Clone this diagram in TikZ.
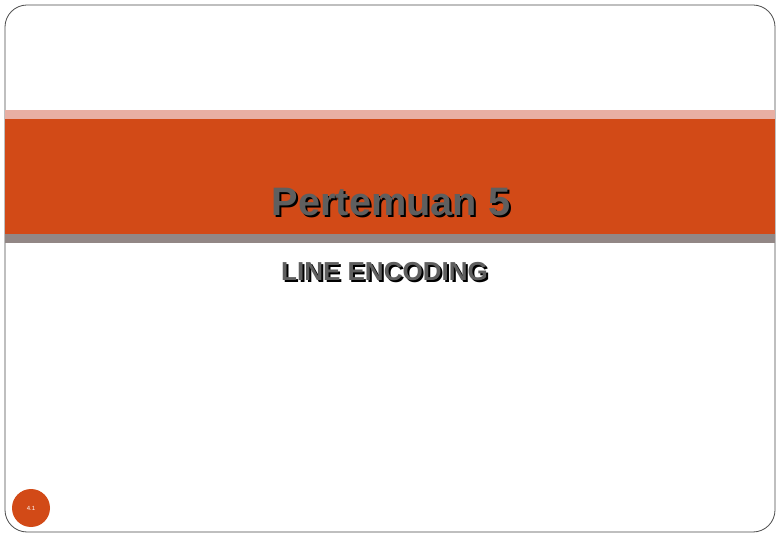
\documentclass[tikz,border=0pt]{standalone}
\usepackage{fontspec}
\setmainfont{Liberation Sans}
\definecolor{orng}{HTML}{D24A17}
\definecolor{pinkb}{HTML}{E8AFA3}
\definecolor{grayb}{HTML}{928785}
\definecolor{txtg}{HTML}{5F5F5F}
\tikzset{x=1pt,y=-1pt,
 shadowtext/.style={text=black},
 maintext/.style={text=txtg}}
\begin{document}
\begin{tikzpicture}
\useasboundingbox (0,0) rectangle (780,540);
\fill[white] (0,0) rectangle (780,540);
\draw[black!70,line width=0.8pt,rounded corners=22pt] (5,5) rectangle (775,532);
\fill[pinkb] (5,110) rectangle (775,119);
\fill[orng] (5,119) rectangle (775,234);
\fill[grayb] (5,234) rectangle (775,243);
\node[shadowtext,font=\fontsize{39.7}{42}\bfseries] (ts) at (393,204) {Pertemuan 5};
\node[maintext,font=\fontsize{39.7}{42}\bfseries] (t) at (391,202) {Pertemuan 5};
\node[shadowtext,font=\fontsize{26}{28}\bfseries] (ss) at (386.5,274) {LINE ENCODING};
\node[maintext,font=\fontsize{26}{28}\bfseries] (s) at (384.5,272) {LINE ENCODING};
\node[circle,fill=orng,minimum size=38pt,inner sep=0pt,text=white,font=\fontsize{6}{7}\selectfont] (pg) at (31,508) {4.1};
\end{tikzpicture}
\end{document}
